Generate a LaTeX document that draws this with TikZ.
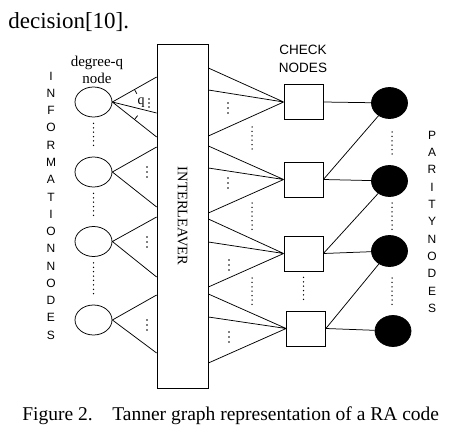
\documentclass[tikz,border=0pt]{standalone}
\usepackage{fontspec}
\setmainfont{Liberation Serif}
\newfontfamily\lblfont{Liberation Sans}
\usetikzlibrary{shapes.geometric,calc}

\begin{document}
\begin{tikzpicture}[
  x=1pt, y=-1pt,
  infonode/.style={draw, ellipse, minimum width=37pt, minimum height=30pt, inner sep=0pt},
  paritynode/.style={infonode, fill=black, minimum width=36pt, minimum height=31pt},
  checknode/.style={draw, rectangle, minimum width=39pt, minimum height=35pt, inner sep=0pt},
  ilv/.style={draw, minimum width=51pt, minimum height=344pt, inner sep=0pt,
              font=\fontsize{14.5}{15}\selectfont},
  letter/.style={font=\lblfont\fontsize{12}{12}\selectfont, inner sep=0pt},
  dotline/.style={line width=1.8pt, line cap=round, dash pattern=on 0pt off 5pt},
  longdots/.style={line width=1.5pt, line cap=round, dash pattern=on 0pt off 4.4pt},
  every path/.style={line width=0.75pt}
]
\useasboundingbox (0,0) rectangle (474,441);

% text around the figure
\node[anchor=base west, inner sep=0pt, font=\fontsize{23}{23}\selectfont] (prev) at (8,29) {decision[10].};
\node[anchor=base west, inner sep=0pt, font=\fontsize{19.5}{20}\selectfont] (cap) at (22,420)
  {Figure 2.\quad Tanner graph representation of a RA code};

% information nodes
\node[infonode] (inf1) at (93.5,102) {};
\node[infonode] (inf2) at (93.5,172) {};
\node[infonode] (inf3) at (93.5,241.5) {};
\node[infonode] (inf4) at (93.5,320) {};
\node[align=center, font=\fontsize{15}{17}\selectfont] (deg) at (97,70) {degree-q\\node};

% interleaver
\node[ilv] (intl) at (182.5,216) {\rotatebox{-90}{INTERLEAVER}};

% check nodes
\node[checknode] (chk1) at (303.5,102) {};
\node[checknode] (chk2) at (303.5,179.5) {};
\node[checknode] (chk3) at (303.5,253.5) {};
\node[checknode] (chk4) at (306,328.5) {};
\node[align=center, font=\lblfont\fontsize{13.5}{18}\selectfont] (chkhead) at (303,59) {CHECK\\NODES};

% parity nodes
\node[paritynode] (par1) at (389.5,103) {};
\node[paritynode] (par2) at (389.5,181) {};
\node[paritynode] (par3) at (389.5,251) {};
\node[paritynode] (par4) at (393,331) {};

% side labels
\foreach \l [count=\i] in {I,N,F,O,R,M,A,T,I,O,N,N,O,D,E,S}
  \node[letter] (il\i) at (51,{76+(\i-1)*17.27}) {\l};
\foreach \l [count=\i] in {P,A,R,I,T,Y,N,O,D,E,S}
  \node[letter] (pl\i) at (432,{135+(\i-1)*17.33}) {\l};

% edges into the interleaver
\foreach \y in {77,113,137}
  \draw (inf1.east) -- (intl.west |- 0,\y);
\foreach \n/\a/\b in {2/147/207, 3/217/277, 4/295/353}
  \draw (inf\n.east) -- (intl.west |- 0,\a) (inf\n.east) -- (intl.west |- 0,\b);

% degree mark
\draw ($(inf1.east)!0.5!(intl.west |- 0,77)$) -- ++(2.4,4.4);
\draw ($(inf1.east)!0.5!(intl.west |- 0,137)$) -- ++(3.1,-3.9);
\node[inner sep=0pt, font=\fontsize{14}{14}\selectfont] (qlbl) at (141,103) {q};
\draw[dotline, dash pattern=on 0pt off 4pt] (149,99) -- (149,107.2);

% edges out of the interleaver
\foreach \n/\a/\b/\c in {1/68/90/136, 2/146/168/213, 3/219/242/287, 4/294/317/363}
  \draw (intl.east |- 0,\a) -- (chk\n.west) (intl.east |- 0,\b) -- (chk\n.west)
        (intl.east |- 0,\c) -- (chk\n.west);

% accumulator edges
\draw (chk1.east) -- (par1);
\draw (chk2.east) -- (par1) (chk2.east) -- (par2);
\draw (chk3.east) -- (par2) (chk3.east) -- (par3);
\draw (chk4.east) -- (par3) (chk4.east) -- (par4);

% short dots
\foreach \x/\y in {147/172, 147/242, 147/325, 228/108, 228/183, 229/265, 229/337}
  \draw[dotline] (\x,{\y-5}) -- (\x,{\y+5.1});

% long dotted gaps
\draw[longdots] ([yshift=-6pt]inf1.south) -- ([yshift=7pt]inf2.north);
\draw[longdots] ([yshift=-6pt]inf2.south) -- ([yshift=7pt]inf3.north);
\draw[longdots] ([yshift=-6pt]inf3.south) -- ([yshift=7pt]inf4.north);
\draw[longdots] (252,127) -- (252,153);
\draw[longdots] (252,203) -- (252,230);
\draw[longdots] (252,278) -- (252,307);
\draw[longdots] ([yshift=-6pt]chk3.south) -- ++(0,26);
\draw[longdots] (392,132) -- (392,158);
\draw[longdots] (392,203) -- (392,230);
\draw[longdots] (392,278) -- (392,305);
\end{tikzpicture}
\end{document}
